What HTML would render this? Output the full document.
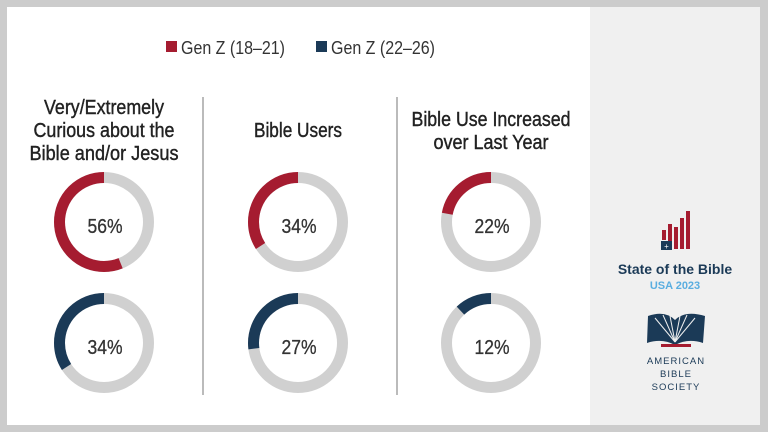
<!DOCTYPE html>
<html><head><meta charset="utf-8"><style>
body{margin:0;width:768px;height:432px;background:#cccccc;position:relative;overflow:hidden;font-family:"Liberation Sans",sans-serif;}
.main{position:absolute;left:7px;top:7px;width:583px;height:418px;background:#fff;}
.side{position:absolute;left:590px;top:7px;width:170px;height:418px;background:#f0f0f0;}
svg{position:absolute;left:0;top:0;}
</style></head><body>
<div class="main"></div><div class="side"></div>
<svg width="768" height="432" viewBox="0 0 768 432">
<g font-family="Liberation Sans, sans-serif" fill="#333">
<rect x="166" y="41" width="11" height="11" fill="#a51c30"/>
<text x="181" y="54" font-size="18" textLength="104" lengthAdjust="spacingAndGlyphs">Gen Z (18–21)</text>
<rect x="316" y="41" width="11" height="11" fill="#1b3a57"/>
<text x="331" y="54" font-size="18" textLength="104" lengthAdjust="spacingAndGlyphs">Gen Z (22–26)</text>
<g font-size="20" text-anchor="middle" fill="#222" stroke="#222" stroke-width="0.4">
<text x="104" y="114" textLength="120" lengthAdjust="spacingAndGlyphs">Very/Extremely</text>
<text x="104" y="137" textLength="141" lengthAdjust="spacingAndGlyphs">Curious about the</text>
<text x="104" y="160" textLength="149" lengthAdjust="spacingAndGlyphs">Bible and/or Jesus</text>
<text x="298" y="137" textLength="88" lengthAdjust="spacingAndGlyphs">Bible Users</text>
<text x="491" y="126" textLength="159" lengthAdjust="spacingAndGlyphs">Bible Use Increased</text>
<text x="491" y="149" textLength="115" lengthAdjust="spacingAndGlyphs">over Last Year</text>
</g>
<line x1="203" y1="97" x2="203" y2="395" stroke="#bbb" stroke-width="2"/>
<line x1="397" y1="97" x2="397" y2="395" stroke="#bbb" stroke-width="2"/>
<g fill="none" stroke-width="11">
<circle cx="104" cy="222" r="44.5" stroke="#d0d0d0"/>
<circle cx="104" cy="222" r="44.5" stroke="#a51c30" stroke-dasharray="156.6 300" transform="translate(208 0) scale(-1 1) rotate(-90 104 222)"/>
<circle cx="104" cy="343" r="44.5" stroke="#d0d0d0"/>
<circle cx="104" cy="343" r="44.5" stroke="#1b3a57" stroke-dasharray="95.1 300" transform="translate(208 0) scale(-1 1) rotate(-90 104 343)"/>
<circle cx="298" cy="222" r="44.5" stroke="#d0d0d0"/>
<circle cx="298" cy="222" r="44.5" stroke="#a51c30" stroke-dasharray="95.1 300" transform="translate(596 0) scale(-1 1) rotate(-90 298 222)"/>
<circle cx="298" cy="343" r="44.5" stroke="#d0d0d0"/>
<circle cx="298" cy="343" r="44.5" stroke="#1b3a57" stroke-dasharray="75.5 300" transform="translate(596 0) scale(-1 1) rotate(-90 298 343)"/>
<circle cx="491" cy="222" r="44.5" stroke="#d0d0d0"/>
<circle cx="491" cy="222" r="44.5" stroke="#a51c30" stroke-dasharray="61.5 300" transform="translate(982 0) scale(-1 1) rotate(-90 491 222)"/>
<circle cx="491" cy="343" r="44.5" stroke="#d0d0d0"/>
<circle cx="491" cy="343" r="44.5" stroke="#1b3a57" stroke-dasharray="33.6 300" transform="translate(982 0) scale(-1 1) rotate(-90 491 343)"/>
</g>
<g font-size="20" text-anchor="middle" fill="#333" stroke="#333" stroke-width="0.3">
<text x="105" y="233" textLength="35" lengthAdjust="spacingAndGlyphs">56%</text><text x="105" y="354" textLength="35" lengthAdjust="spacingAndGlyphs">34%</text>
<text x="299" y="233" textLength="35" lengthAdjust="spacingAndGlyphs">34%</text><text x="299" y="354" textLength="35" lengthAdjust="spacingAndGlyphs">27%</text>
<text x="492" y="233" textLength="35" lengthAdjust="spacingAndGlyphs">22%</text><text x="492" y="354" textLength="35" lengthAdjust="spacingAndGlyphs">12%</text>
</g>
</g>
<!-- logo -->
<g fill="#a51c30">
<rect x="662" y="230" width="4" height="10"/>
<rect x="668" y="224" width="4" height="25"/>
<rect x="674" y="227" width="4" height="22"/>
<rect x="680" y="218" width="4" height="31"/>
<rect x="686" y="211" width="4" height="38"/>
</g>
<rect x="661" y="241" width="11" height="9" fill="#1b3a57"/>
<text x="666.5" y="249" font-size="8" fill="#fff" text-anchor="middle" font-family="Liberation Sans">+</text>
<g font-family="Liberation Sans, sans-serif" text-anchor="middle" font-weight="bold">
<text x="675" y="274" font-size="14" fill="#1b3a57">State of the Bible</text>
<text x="675" y="289" font-size="11" fill="#5aaee0">USA 2023</text>
<g font-size="9.5" fill="#1b3a57" letter-spacing="1" font-weight="normal">
<text x="676" y="364">AMERICAN</text>
<text x="676" y="377">BIBLE</text>
<text x="676" y="390">SOCIETY</text>
</g>
</g>
<path d="M648 316 Q665 310 675 320 Q685 310 705 316 L703 343 Q688 338 675 345 Q662 338 647 343 Z" fill="#1b3a57"/>
<g stroke="#f0f0f0" stroke-width="1">
<line x1="675" y1="342" x2="655" y2="318"/><line x1="675" y1="342" x2="663" y2="315"/>
<line x1="675" y1="342" x2="670" y2="316"/><line x1="675" y1="342" x2="680" y2="316"/>
<line x1="675" y1="342" x2="687" y2="315"/><line x1="675" y1="342" x2="695" y2="318"/>
</g>
<rect x="661" y="344" width="30" height="3" fill="#a51c30"/>
</svg>
</body></html>
